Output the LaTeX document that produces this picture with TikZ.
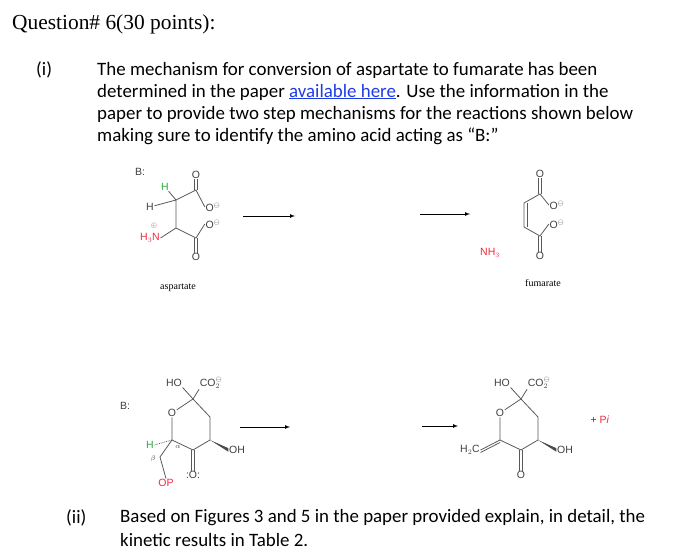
\documentclass[tikz,border=0pt]{standalone}
\usepackage{fontspec}
\setmainfont{Liberation Serif}
\newfontfamily\para{Carlito}
\newfontfamily\chem{Liberation Sans}
\definecolor{lnk}{RGB}{30,60,230}
\definecolor{gr}{RGB}{40,170,60}
\definecolor{rd}{RGB}{240,40,60}
\begin{document}
\begin{tikzpicture}[x=1pt,y=-1pt,
  txt/.style={anchor=west,inner sep=0,font=\para\fontsize{18.9}{22}\selectfont},
  atm/.style={inner sep=0.5,font=\chem\fontsize{10.5}{12}\selectfont,text=black!75},
  bd/.style={draw=black!65,line width=0.8},
  arr/.style={draw,-latex,line width=0.7}]
\useasboundingbox (0,0) rectangle (681,557);
\node[anchor=west,inner sep=0,font=\fontsize{21.4}{24}\selectfont] (q) at (12,24) {Question\# 6(30 points):};
\node[txt] (i) at (36,70) {(i)};
\node[txt] (l1) at (97,70) {The mechanism for conversion of aspartate to fumarate has been};
\node[txt] (l2) at (97,92) {determined in the paper \textcolor{lnk}{\underline{available here}}. Use the information in the};
\node[txt] (l3) at (97,114) {paper to provide two step mechanisms for the reactions shown below};
\node[txt] (l4) at (97,136) {making sure to identify the amino acid acting as “B:”};
\node[txt] (ii) at (66,518) {(ii)};
\node[txt] (m1) at (120,518) {Based on Figures 3 and 5 in the paper provided explain, in detail, the};
\node[txt] (m2) at (120,540) {kinetic results in Table 2.};
% aspartate
\node[atm] (B1) at (140,172) {B:};
\node[atm,text=gr] (Hg) at (165,187) {H};
\node[atm] (Hl) at (150,207) {H};
\coordinate (c1) at (176,200);
\coordinate (c2) at (176,228);
\coordinate (k1) at (196,190);
\coordinate (k2) at (196,238);
\node[atm] (o1) at (196,175) {O};
\node[atm] (o2) at (213,207) {O$^{\ominus}$};
\node[atm] (o3) at (213,224) {O$^{\ominus}$};
\node[atm] (o4) at (196,257) {O};
\node[atm,text=rd] (N) at (150,238) {H$_3$N};
\node[atm,text=rd,font=\chem\fontsize{7}{8}\selectfont] at (154,226) {$\oplus$};
\draw[bd] (Hg)--(c1) (Hl)--(c1) (c1)--(k1)--(o2.west) (c1)--(c2)--(k2)--(o3.west) (c2)--(N.east);
\draw[bd] ([xshift=-1.3]k1)--([xshift=-1.3]o1.south) ([xshift=1.3]k1)--([xshift=1.3]o1.south);
\draw[bd] ([xshift=-1.3]k2)--([xshift=-1.3]o4.north) ([xshift=1.3]k2)--([xshift=1.3]o4.north);
\node[inner sep=0,font=\fontsize{10}{11}\selectfont] (asp) at (178,288) {aspartate};
\coordinate (a1s) at (243,216); \coordinate (a1e) at (295,216);
\coordinate (a2s) at (420,214); \coordinate (a2e) at (470,214);
\draw[arr] (a1s)--(a1e); \draw[arr] (a2s)--(a2e);
% fumarate
\node[atm,text=rd] (NH3) at (490,253) {NH$_3$};
\coordinate (f1) at (524,203); \coordinate (f2) at (524,227);
\coordinate (fk1) at (540,194); \coordinate (fk2) at (540,236);
\node[atm] (fo1) at (540,174) {O};
\node[atm] (fo2) at (557,205) {O$^{\ominus}$};
\node[atm] (fo3) at (557,224) {O$^{\ominus}$};
\node[atm] (fo4) at (540,256) {O};
\draw[bd] (fo2.west)--(fk1)--(f1)--(f2)--(fk2)--(fo3.west);
\draw[bd] ([xshift=3]f1)--([xshift=3]f2);
\draw[bd] ([xshift=-1.3]fk1)--([xshift=-1.3]fo1.south) ([xshift=1.3]fk1)--([xshift=1.3]fo1.south);
\draw[bd] ([xshift=-1.3]fk2)--([xshift=-1.3]fo4.north) ([xshift=1.3]fk2)--([xshift=1.3]fo4.north);
\node[inner sep=0,font=\fontsize{10}{11}\selectfont] (fum) at (543,283) {fumarate};
% second reaction left
\node[atm] (B2) at (125,406) {B:};
\node[atm] (HO) at (174,383) {HO};
\node[atm] (CO) at (211,383) {CO$_2^{\ominus}$};
\node[atm] (rO) at (172,413) {O};
\coordinate (an) at (193,399);
\coordinate (ch) at (210,417);
\coordinate (c4) at (210,440);
\coordinate (kc) at (193,450);
\coordinate (al) at (172,440);
\node[atm] (OH) at (237,450) {OH};
\node[atm] (kO) at (193,475) {:O:};
\node[atm,text=gr] (Ha) at (150,445) {H};
\node[atm,font=\chem\fontsize{7}{8}\selectfont] (alp) at (178,447) {$\alpha$};
\node[atm,font=\chem\fontsize{7}{8}\selectfont] (bet) at (153,459) {$\beta$};
\coordinate (be) at (160,457);
\node[atm,text=rd] (OP) at (166,483) {OP};
\draw[bd] (rO)--(an)--(ch)--(c4)--(kc)--(al)--(rO) (an)--(HO.south east) (al)--(be)--(OP.north);
\draw[bd] (an)--(CO.south west);
\fill[black!70] (c4)--([shift={(0,-1.8)}]OH.west)--([shift={(0,1.8)}]OH.west)--cycle;
\draw[bd,dash pattern=on 0.8 off 1] (al)--(Ha.east);
\draw[bd] ([xshift=-1.3]kc)--([xshift=-1.3]kO.north) ([xshift=1.3]kc)--([xshift=1.3]kO.north);
\coordinate (b1s) at (240,427); \coordinate (b1e) at (290,427);
\coordinate (b2s) at (422,426); \coordinate (b2e) at (458,426);
\draw[arr] (b1s)--(b1e); \draw[arr] (b2s)--(b2e);
% right product
\node[atm] (HOr) at (502,383) {HO};
\node[atm] (COr) at (539,383) {CO$_2^{\ominus}$};
\node[atm] (rOr) at (500,413) {O};
\coordinate (anr) at (521,399);
\coordinate (chr) at (538,417);
\coordinate (c4r) at (538,440);
\coordinate (kcr) at (521,450);
\coordinate (alr) at (500,440);
\node[atm] (OHr) at (565,450) {OH};
\node[atm] (kOr) at (521,475) {O};
\node[atm] (H2C) at (470,450) {H$_2$C};
\node[atm] (Pi) at (600,420) {+ \textcolor{rd}{P\textit{i}}};
\draw[bd] (rOr)--(anr)--(chr)--(c4r)--(kcr)--(alr)--(rOr) (anr)--(HOr.south east) (anr)--(COr.south west);
\fill[black!70] (c4r)--([shift={(0,-1.8)}]OHr.west)--([shift={(0,1.8)}]OHr.west)--cycle;
\draw[bd] ([xshift=-1.3]kcr)--([xshift=-1.3]kOr.north) ([xshift=1.3]kcr)--([xshift=1.3]kOr.north);
\draw[bd] (alr)--(H2C.east) ([yshift=-2.5]alr)--([yshift=-2.5]H2C.east);
\end{tikzpicture}
\end{document}
